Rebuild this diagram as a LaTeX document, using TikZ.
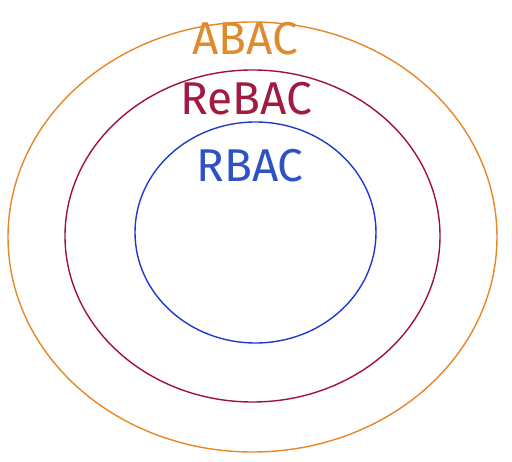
\documentclass[tikz,border=0pt]{standalone}
\usepackage{fontspec}
\setmainfont{Fira Sans}
\definecolor{abacline}{HTML}{E8862A}
\definecolor{abactext}{HTML}{E08A30}
\definecolor{rebacline}{HTML}{A0123E}
\definecolor{rebactext}{HTML}{A01A42}
\definecolor{rbacline}{HTML}{1E3ACC}
\definecolor{rbactext}{HTML}{2E52C4}
\begin{document}
\begin{tikzpicture}[x=1pt,y=-1pt,
  ring/.style={line width=1.4pt},
  lbl/.style={font=\fontsize{46}{46}\selectfont, inner sep=0pt, anchor=center}]
\useasboundingbox (0,0) rectangle (512,462);
\draw[ring, abacline] (252.5,237) ellipse [x radius=244.5, y radius=215];
\draw[ring, rebacline] (252.5,236) ellipse [x radius=187.5, y radius=166];
\draw[ring, rbacline] (255.5,232.5) ellipse [x radius=120.5, y radius=110.5];
\node[lbl, text=abactext] (abac) at (245,39) {ABAC};
\node[lbl, text=rebactext] (rebac) at (246,98.5) {ReBAC};
\node[lbl, text=rbactext] (rbac) at (250,165.5) {RBAC};
\end{tikzpicture}
\end{document}
